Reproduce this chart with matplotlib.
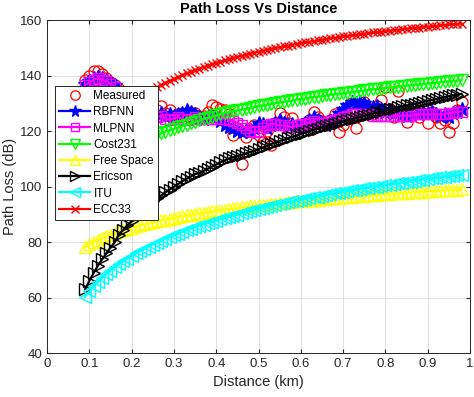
import numpy as np
import matplotlib
matplotlib.use("Agg")
import matplotlib.pyplot as plt

plt.rcParams['font.family'] = ['Liberation Sans', 'DejaVu Sans']

distance = [0.09, 0.10, 0.11, 0.12, 0.13, 0.14, 0.15, 0.16, 0.17, 0.18,
            0.19, 0.20, 0.21, 0.22, 0.23, 0.24, 0.25, 0.26, 0.27, 0.28,
            0.29, 0.30, 0.31, 0.32, 0.33, 0.34, 0.35, 0.36, 0.37, 0.38,
            0.39, 0.40, 0.41, 0.42, 0.43, 0.44, 0.45, 0.46, 0.47, 0.48,
            0.49, 0.50, 0.51, 0.52, 0.53, 0.54, 0.55, 0.56, 0.57, 0.58,
            0.59, 0.60, 0.61, 0.62, 0.63, 0.64, 0.65, 0.66, 0.67, 0.68,
            0.69, 0.70, 0.71, 0.72, 0.73, 0.74, 0.75, 0.76, 0.77, 0.78,
            0.79, 0.80, 0.81, 0.82, 0.83, 0.84, 0.85, 0.86, 0.87, 0.88,
            0.89, 0.90, 0.91, 0.92, 0.93, 0.94, 0.95, 0.96, 0.97, 0.98]

measured = [138.5, 140.0, 141.5, 141.8, 140.5, 139.0, 137.5, 136.5,
            135.0, 133.0, 131.0, 130.0, 129.0, 128.0, 127.5, 127.0, 127.0,
            127.5, 129.0, 126.5, 127.5, 125.5, 126.0, 124.5, 125.5, 125.0, 126.4,
            124.5, 125.5, 127.0, 129.3, 128.5, 128.0, 127.6, 126.0, 118.6, 121.0,
            108.0, 118.0, 120.5, 122.0, 118.6, 116.2, 120.0, 115.0, 123.0, 126.4,
            125.2, 123.0, 124.6, 122.0, 121.5, 123.0, 124.0, 127.0, 125.0, 123.5,
            122.0, 124.0, 126.0, 119.5, 122.0, 125.0, 130.0, 121.0, 127.0, 130.6,
            128.0, 126.0, 129.0, 131.0, 136.0, 128.0, 125.2, 134.5, 126.0, 123.4,
            127.0, 128.0, 125.0, 126.5, 122.8, 127.0, 125.0, 122.8, 124.0, 119.8,
            122.8, 127.6, 130.6]

rbfnn = [137.0, 138.0, 139.0, 139.5, 139.0, 138.5, 137.5, 136.5,
         134.0, 132.0, 130.0, 129.0, 128.0, 127.0, 126.5, 126.0, 126.0,
         126.0, 126.5, 125.5, 126.0, 125.5, 126.0, 126.5, 127.5, 127.0, 126.0,
         125.0, 124.5, 125.0, 125.5, 125.0, 123.5, 122.0, 121.5, 121.0, 120.0,
         119.8, 120.5, 119.5, 121.0, 123.0, 122.5, 121.0, 122.0, 123.0, 124.0,
         123.0, 122.0, 122.5, 121.5, 122.0, 123.0, 124.0, 125.0, 124.0, 123.0,
         122.0, 123.5, 125.0, 126.5, 128.0, 129.5, 130.5, 130.0, 130.5, 130.0,
         129.0, 128.5, 129.0, 128.0, 127.0, 127.5, 126.5, 127.0, 126.0, 125.5,
         126.5, 127.0, 126.0, 127.0, 126.5, 127.0, 126.0, 125.5, 126.0, 125.0,
         126.5, 127.0, 128.0]

mlpnn = [136.5, 137.5, 138.5, 139.0, 138.5, 138.0, 137.0, 136.0,
         134.0, 132.0, 130.0, 128.5, 127.5, 126.5, 126.0, 125.5, 125.0,
         125.0, 125.5, 124.5, 124.0, 124.5, 125.0, 124.5, 124.0, 124.5, 125.0,
         124.5, 124.5, 124.5, 124.5, 124.5, 124.5, 124.5, 124.0, 123.5, 123.0,
         122.0, 121.0, 120.0, 119.5, 120.0, 121.0, 122.0, 122.5, 122.5, 122.0,
         122.0, 121.5, 121.5, 122.0, 122.0, 122.5, 123.0, 123.5, 123.0, 123.0,
         123.0, 123.5, 124.0, 124.5, 125.0, 125.5, 126.0, 126.0, 126.0, 126.0,
         126.0, 125.5, 125.5, 125.5, 125.5, 125.5, 125.5, 125.5, 125.5, 125.5,
         125.5, 126.0, 126.0, 126.0, 126.0, 126.0, 126.0, 126.0, 126.0, 126.5,
         126.5, 127.0, 127.0]

cost231 = [104.5, 106.0, 107.3, 108.5, 109.6, 110.6, 111.5, 112.4, 113.2, 114.0,
           114.7, 115.4, 116.0, 116.6, 117.2, 117.8, 118.3, 118.8, 119.3, 119.8,
           120.3, 120.8, 121.3, 121.8, 122.3, 122.8, 123.3, 123.8, 124.3, 124.8,
           125.2, 125.6, 126.0, 126.4, 126.8, 127.1, 127.4, 127.7, 128.0, 128.3,
           128.6, 128.9, 129.2, 129.5, 129.8, 130.0, 130.3, 130.5, 130.8, 131.0,
           131.3, 131.5, 131.7, 132.0, 132.2, 132.4, 132.6, 132.8, 133.0, 133.2,
           133.4, 133.6, 133.8, 134.0, 134.2, 134.4, 134.6, 134.8, 135.0, 135.2,
           135.3, 135.5, 135.7, 135.8, 136.0, 136.2, 136.3, 136.5, 136.7, 136.8,
           137.0, 137.1, 137.3, 137.4, 137.6, 137.7, 137.9, 138.0, 138.2, 138.3]

free_space = [78.3, 79.2, 80.0, 80.8, 81.5, 82.1, 82.7, 83.3, 83.8, 84.3,
              84.8, 85.2, 85.6, 86.0, 86.4, 86.8, 87.2, 87.5, 87.8, 88.1,
              88.4, 88.7, 89.0, 89.3, 89.6, 89.8, 90.1, 90.3, 90.6, 90.8,
              91.0, 91.2, 91.5, 91.7, 91.9, 92.1, 92.3, 92.5, 92.6, 92.8,
              93.0, 93.2, 93.3, 93.5, 93.7, 93.8, 94.0, 94.2, 94.3, 94.5,
              94.6, 94.8, 94.9, 95.0, 95.2, 95.3, 95.5, 95.6, 95.7, 95.8,
              96.0, 96.1, 96.2, 96.3, 96.5, 96.6, 96.7, 96.8, 96.9, 97.0,
              97.2, 97.3, 97.4, 97.5, 97.6, 97.7, 97.8, 97.9, 98.0, 98.1,
              98.2, 98.3, 98.4, 98.5, 98.6, 98.7, 98.8, 98.8, 98.9, 99.0]

ericson = [62.9, 66.0, 68.8, 71.4, 73.7, 75.9, 78.0, 79.9, 82.7, 84.4,
           86.0, 87.5, 89.4, 90.8, 92.1, 93.4, 94.6, 95.7, 96.8, 97.9,
           98.9, 99.9, 100.9, 101.9, 102.8, 103.6, 104.5, 104.8, 105.6, 106.4,
           107.2, 107.9, 108.7, 109.4, 110.1, 110.5, 111.0, 111.4, 111.9, 112.4,
           112.9, 113.5, 114.1, 114.7, 115.3, 115.8, 116.4, 116.9, 117.4, 117.9,
           118.4, 118.9, 119.4, 119.9, 120.4, 120.8, 121.3, 121.7, 122.2, 122.6,
           123.0, 123.5, 123.9, 124.3, 124.7, 125.1, 125.5, 125.9, 126.3, 126.7,
           127.0, 127.4, 127.8, 128.1, 128.5, 128.9, 129.2, 129.5, 129.9, 130.2,
           130.6, 130.9, 131.2, 131.5, 131.9, 132.2, 132.5, 132.8, 133.1, 133.4]

itu = [60.3, 62.2, 64.0, 65.6, 67.0, 68.4, 69.7, 70.9, 72.0, 73.0,
       74.0, 75.0, 75.9, 76.7, 77.5, 78.3, 79.1, 79.8, 80.5, 81.2,
       81.8, 82.4, 83.0, 83.6, 84.2, 84.7, 85.3, 85.8, 86.3, 86.8,
       87.3, 87.7, 88.2, 88.6, 89.1, 89.5, 89.9, 90.3, 90.7, 91.1,
       91.5, 91.8, 92.2, 92.6, 92.9, 93.3, 93.6, 93.9, 94.3, 94.6,
       94.9, 95.2, 95.5, 95.8, 96.1, 96.4, 96.7, 97.0, 97.2, 97.5,
       97.8, 98.0, 98.3, 98.6, 98.8, 99.1, 99.3, 99.5, 99.8, 100.0,
       100.3, 100.5, 100.7, 101.0, 101.2, 101.4, 101.6, 101.8, 102.0, 102.2,
       102.5, 102.7, 102.9, 103.1, 103.3, 103.5, 103.7, 103.9, 104.0, 104.2]

ecc33 = [108.7, 111.7, 114.4, 116.8, 119.0, 120.9, 122.7, 124.3, 125.9, 127.3,
         128.6, 129.8, 130.9, 132.0, 133.0, 134.0, 134.9, 135.8, 136.6, 137.4,
         138.1, 138.8, 139.5, 140.2, 140.8, 141.4, 142.0, 142.5, 143.1, 143.6,
         144.1, 144.6, 145.0, 145.5, 145.9, 146.3, 146.7, 147.1, 147.5, 147.9,
         148.2, 148.6, 148.9, 149.3, 149.6, 149.9, 150.2, 150.5, 150.8, 151.1,
         151.4, 151.7, 151.9, 152.2, 152.4, 152.7, 152.9, 153.2, 153.4, 153.6,
         153.8, 154.1, 154.3, 154.5, 154.7, 154.9, 155.1, 155.3, 155.5, 155.7,
         155.8, 156.0, 156.2, 156.4, 156.5, 156.7, 156.9, 157.0, 157.2, 157.3,
         157.5, 157.6, 157.8, 157.9, 158.1, 158.2, 158.4, 158.5, 158.6, 158.7]

fig = plt.figure(figsize=(4.74, 3.97), dpi=100)
ax = fig.add_axes([0.0992, 0.1108, 0.8924, 0.8388])

ms = 8
lw = 1.6
ax.plot(distance, measured, 'o', color='#ff0000', mfc='none', ms=8, mew=0.9, label='Measured')
ax.plot(distance, rbfnn, '-*', color='#0000ff', ms=10, lw=lw, label='RBFNN')
ax.plot(distance, mlpnn, '-s', color='#ff00ff', mfc='none', ms=7, lw=lw, label='MLPNN')
ax.plot(distance, cost231, '-v', color='#00ff00', mfc='none', ms=ms, lw=lw, label='Cost231')
ax.plot(distance, free_space, '-^', color='#ffff00', mfc='none', ms=ms, lw=lw, label='Free Space')
ax.plot(distance, ericson, '->', color='#000000', mfc='none', ms=ms, lw=lw, label='Ericson')
ax.plot(distance, itu, '-<', color='#00ffff', mfc='none', ms=ms, lw=lw, label='ITU')
ax.plot(distance, ecc33, '-x', color='#ff0000', ms=6, lw=lw, label='ECC33')

ax.set_xlim(0, 1)
ax.set_ylim(40, 160)
ax.set_xticks(np.arange(0, 1.01, 0.1))
ax.set_xticklabels(['0', '0.1', '0.2', '0.3', '0.4', '0.5', '0.6', '0.7', '0.8', '0.9', '1'])
ax.set_yticks(np.arange(40, 161, 20))
ax.tick_params(direction='in', top=True, right=True, labelsize=9.5, colors='#262626', length=3)
ax.grid(True, color='#dcdcdc', lw=0.6)
for s in ax.spines.values():
    s.set_color('#262626')
    s.set_linewidth(0.7)

ax.set_xlabel('Distance (km)', fontsize=10.5, color='#262626')
ax.set_ylabel('Path Loss (dB)', fontsize=10.5, color='#262626', labelpad=2)
ax.set_title('Path Loss Vs Distance', fontsize=10.5, fontweight='bold', pad=5)

leg = ax.legend(loc='upper left', bbox_to_anchor=(0.019, 0.802), fontsize=8.5,
                fancybox=False, framealpha=1, edgecolor='#262626',
                labelspacing=0.36, handlelength=2.6, handletextpad=0.3,
                borderpad=0.35, borderaxespad=0, markerscale=0.85)
leg.get_frame().set_linewidth(0.7)

fig.savefig('out.png', dpi=100)
